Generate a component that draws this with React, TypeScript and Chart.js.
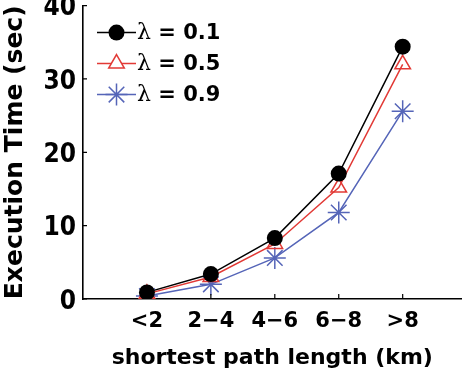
import React, { useEffect, useRef } from 'react';
import { Chart, registerables } from 'chart.js';

Chart.register(...registerables);

const categories = ['<2', '2\u22124', '4\u22126', '6\u22128', '>8'];
const lambda01 = [0.9, 3.4, 8.3, 17.1, 34.4];
const lambda05 = [0.7, 3.0, 7.5, 15.2, 32.0];
const lambda09 = [0.4, 2.0, 5.6, 11.8, 25.6];
const yTicks = [0, 10, 20, 30, 40];
const lambdaValues = ['0.1', '0.5', '0.9'];
const seriesLabels = lambdaValues.map((v) => `\u03bb = ${v}`);
const xTitle = 'shortest path length (km)';
const yTitle = 'Execution Time (sec)';

const FONT = '"DejaVu Sans", Verdana, sans-serif';
const NARROW = '"Liberation Sans Narrow", "DejaVu Sans Condensed", sans-serif';
const BLACK = '#000000';
const RED = '#e23a36';
const BLUE = '#5565b8';

const toPoints = (vals: number[]) => vals.map((v, i) => ({ x: i + 1, y: v }));

function drawMarker(ctx: CanvasRenderingContext2D, style: string, x: number, y: number, r: number, color: string) {
  ctx.save();
  ctx.strokeStyle = color;
  ctx.fillStyle = color;
  ctx.lineWidth = 1.5;
  ctx.beginPath();
  if (style === 'circle') {
    ctx.arc(x, y, r, 0, Math.PI * 2);
    ctx.fill();
  } else if (style === 'triangle') {
    ctx.fillStyle = '#ffffff';
    for (let k = 0; k < 3; k++) {
      const a = (k * 2 * Math.PI) / 3;
      const px = x + Math.sin(a) * r;
      const py = y - Math.cos(a) * r;
      if (k === 0) ctx.moveTo(px, py);
      else ctx.lineTo(px, py);
    }
    ctx.closePath();
    ctx.fill();
    ctx.stroke();
  } else {
    for (let k = 0; k < 4; k++) {
      const a = (k * Math.PI) / 4;
      ctx.moveTo(x - Math.cos(a) * r, y - Math.sin(a) * r);
      ctx.lineTo(x + Math.cos(a) * r, y + Math.sin(a) * r);
    }
    ctx.stroke();
  }
  ctx.restore();
}

const legendAndTicks = {
  id: 'legendAndTicks',
  afterDraw(chart: any) {
    const ctx: CanvasRenderingContext2D = chart.ctx;
    const { left, top, bottom } = chart.chartArea;
    const xs = chart.scales.x;
    const ys = chart.scales.y;
    ctx.save();
    ctx.strokeStyle = '#000';
    ctx.lineWidth = 1.2;
    ctx.beginPath();
    categories.forEach((_, i) => {
      const px = xs.getPixelForValue(i + 1);
      ctx.moveTo(px, bottom);
      ctx.lineTo(px, bottom - 5);
    });
    yTicks.forEach((v) => {
      const py = ys.getPixelForValue(v);
      ctx.moveTo(left, py);
      ctx.lineTo(left + 4, py);
    });
    ctx.stroke();

    const styles = ['circle', 'triangle', 'star'];
    const colors = [BLACK, RED, BLUE];
    const radii = [8, 9, 11];
    ctx.textBaseline = 'middle';
    ctx.textAlign = 'left';
    lambdaValues.forEach((val, i) => {
      const cy = top + 27 + i * 31;
      const x0 = left + 14;
      const x1 = left + 53;
      ctx.strokeStyle = colors[i];
      ctx.lineWidth = 1.5;
      ctx.beginPath();
      ctx.moveTo(x0, cy);
      ctx.lineTo(x1, cy);
      ctx.stroke();
      drawMarker(ctx, styles[i], (x0 + x1) / 2, cy, radii[i], colors[i]);
      ctx.fillStyle = '#000';
      ctx.font = `22px "DejaVu Serif", serif`;
      ctx.fillText('\u03bb', x1 + 1, cy + 1);
      const lw = ctx.measureText('\u03bb').width;
      ctx.font = `bold 21px ${FONT}`;
      ctx.fillText(` = ${val}`, x1 + 1 + lw, cy + 1);
    });
    ctx.restore();
  },
};

const App: React.FC = () => {
  const ref = useRef<HTMLCanvasElement | null>(null);

  useEffect(() => {
    if (!ref.current) return;
    const chart = new Chart(ref.current, {
      type: 'line',
      data: {
        datasets: [
          {
            label: seriesLabels[0],
            data: toPoints(lambda01),
            borderColor: BLACK,
            backgroundColor: BLACK,
            borderWidth: 1.5,
            pointStyle: 'circle',
            pointRadius: 8,
            pointBorderWidth: 0,
            pointBackgroundColor: BLACK,
          },
          {
            label: seriesLabels[1],
            data: toPoints(lambda05),
            borderColor: RED,
            backgroundColor: 'rgba(255,255,255,0)',
            borderWidth: 1.5,
            pointStyle: 'triangle',
            pointRadius: 9,
            pointBorderWidth: 1.5,
            pointBorderColor: RED,
            pointBackgroundColor: 'rgba(255,255,255,0)',
          },
          {
            label: seriesLabels[2],
            data: toPoints(lambda09),
            borderColor: BLUE,
            backgroundColor: BLUE,
            borderWidth: 1.5,
            pointStyle: 'star',
            pointRadius: 11,
            pointBorderWidth: 1.5,
            pointBorderColor: BLUE,
          },
        ],
      },
      options: {
        animation: false,
        responsive: true,
        maintainAspectRatio: false,
        layout: { padding: { left: 0, right: 1, top: 0, bottom: 0 } },
        plugins: { legend: { display: false }, tooltip: { enabled: false } },
        scales: {
          x: {
            type: 'linear',
            min: 0,
            max: 5.92,
            grid: { display: false, drawTicks: false },
            border: { display: true, color: '#000', width: 1.6 },
            afterBuildTicks: (scale: any) => {
              scale.ticks = categories.map((_, i) => ({ value: i + 1 }));
            },
            afterFit: (scale: any) => {
              scale.height = 72;
            },
            ticks: {
              color: '#000',
              padding: 10,
              font: { family: FONT, size: 21, weight: 'bold' },
              callback: (v: any) => categories[Math.round(Number(v)) - 1] ?? '',
              maxRotation: 0,
              autoSkip: false,
            },
            title: {
              display: true,
              text: xTitle,
              color: '#000',
              padding: 0,
              font: { family: FONT, size: 22, weight: 'bold' },
            },
          },
          y: {
            type: 'linear',
            min: 0,
            max: 40,
            grid: { display: false, drawTicks: false },
            border: { display: true, color: '#000', width: 1.6 },
            afterBuildTicks: (scale: any) => {
              scale.ticks = yTicks.map((v) => ({ value: v }));
            },
            afterFit: (scale: any) => {
              scale.width = 83;
            },
            ticks: {
              color: '#000',
              padding: 7,
              labelOffset: 3,
              font: { family: NARROW, size: 26, weight: 'bold' },
            },
            title: {
              display: true,
              text: yTitle,
              color: '#000',
              padding: 0,
              font: { family: FONT, size: 25, weight: 'bold' },
            },
          },
        },
      },
      plugins: [legendAndTicks],
    } as any);
    return () => chart.destroy();
  }, []);

  return (
    <div style={{ position: 'absolute', left: 0, top: -17, width: 474, height: 388, background: '#fff' }}>
      <canvas ref={ref} />
    </div>
  );
};

export default App;
